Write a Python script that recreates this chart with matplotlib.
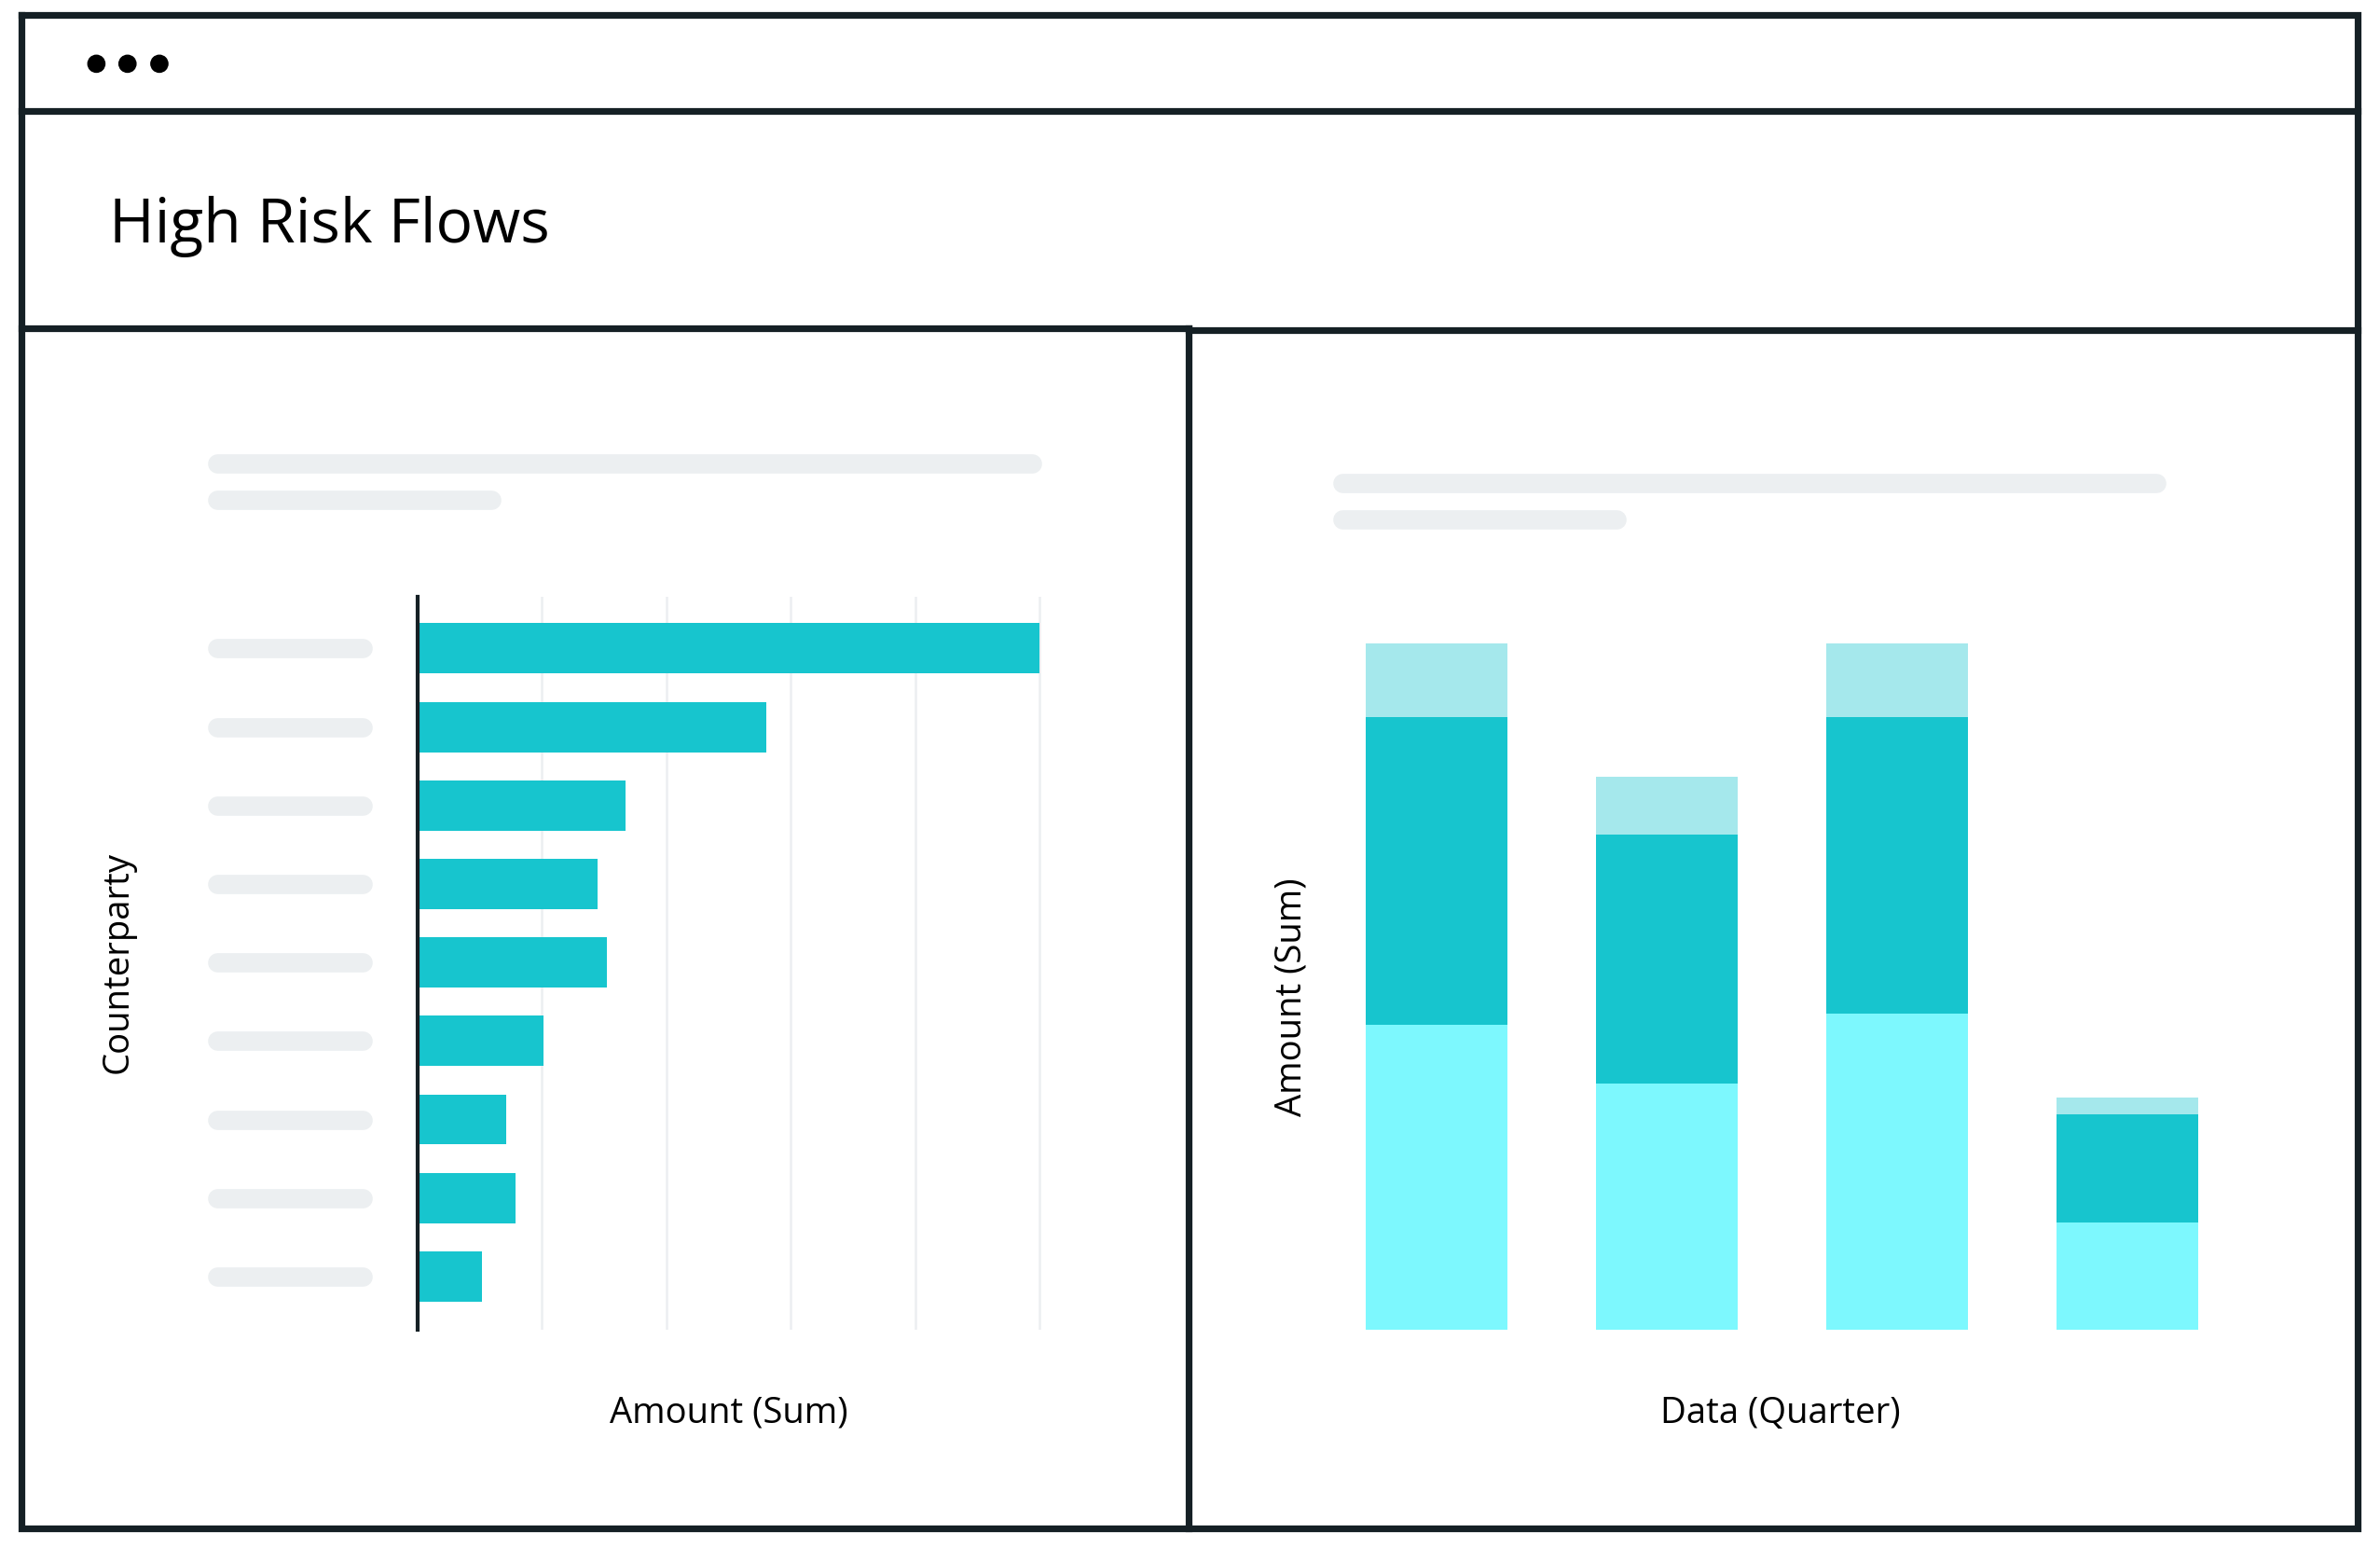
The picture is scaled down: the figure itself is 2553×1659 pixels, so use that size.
import matplotlib
matplotlib.use("Agg")
import matplotlib.pyplot as plt
from matplotlib.patches import Circle

plt.rcParams['font.family'] = ['Open Sans', 'DejaVu Sans']

# left chart: amount per counterparty, top to bottom
amounts = [500, 280, 167, 145, 152, 101, 71, 79, 52]
grid_ticks = [100, 200, 300, 400, 500]

# right chart: stacked amount per quarter
quarters = ["Q1", "Q2", "Q3", "Q4"]
part_low = [46.7, 37.8, 48.5, 16.4]
part_mid = [47.1, 38.1, 45.3, 16.6]
part_top = [11.3, 8.8, 11.3, 2.6]

FRAME = "#152025"
BAR = "#17C5CE"
LOW = "#7DF8FE"
TOP = "#A5E8EC"
GREY = "#ECEFF1"

# layout is worked out on a 1568 x 1019 grid
W, H = 1568.0, 1019.0


def box(x0, y0, x1, y1):
    return [x0 / W, 1 - y1 / H, (x1 - x0) / W, (y1 - y0) / H]


fig = plt.figure(figsize=(25.53, 16.59), dpi=100)

bg = fig.add_axes([0, 0, 1, 1])
bg.set_xlim(0, W)
bg.set_ylim(H, 0)
bg.axis("off")

lw = 5.2
# window frame
bg.plot([14, 1553, 1553, 14, 14], [10, 10, 1007, 1007, 10], color=FRAME, lw=lw,
        solid_joinstyle="miter", solid_capstyle="projecting")
bg.plot([14, 1553], [73, 73], color=FRAME, lw=lw)
bg.plot([14, 783], [216, 216], color=FRAME, lw=lw)
bg.plot([783, 1553], [217.5, 217.5], color=FRAME, lw=lw)
bg.plot([783, 783], [216, 1007], color=FRAME, lw=lw)

for cx in [63.5, 84, 105]:
    bg.add_patch(Circle((cx, 42), 5.6, color="black"))

bg.text(72, 149, "High Risk Flows", fontsize=47.5, va="center", ha="left", color="black")


def pill(ax, x0, x1, y, **kw):
    r = 6.3
    ax.plot([x0 + r, x1 - r], [y, y], color=GREY, lw=14.9, solid_capstyle="round", **kw)


# placeholder text lines
pill(bg, 137, 686, 305)
pill(bg, 137, 330, 329)
pill(bg, 878, 1427, 318)
pill(bg, 878, 1071, 342)

lab = 27.5
bg.text(78, 634, "Counterparty", fontsize=lab, rotation=90, ha="center", va="center")
bg.text(480, 931, "Amount (Sum)", fontsize=lab, ha="center", va="center")
bg.text(851, 657, "Amount (Sum)", fontsize=lab, rotation=90, ha="center", va="center")
bg.text(1173, 931, "Data (Quarter)", fontsize=lab, ha="center", va="center")

# left: horizontal bars
ax1 = fig.add_axes(box(275, 393, 689, 876))
ax1.patch.set_alpha(0)
ypos = list(range(len(amounts)))
ax1.barh(ypos, amounts, height=0.64, color=BAR, zorder=2)
ax1.set_xlim(0, 504.9)
ax1.set_ylim(len(amounts) - 1 + 0.68, -0.66)
ax1.set_xticks(grid_ticks)
ax1.set_yticks([])
ax1.tick_params(length=0, labelbottom=False)
ax1.grid(axis="x", color="#ECEEF1", lw=1.8, zorder=0)
ax1.set_axisbelow(True)
for s in ["top", "right", "bottom"]:
    ax1.spines[s].set_visible(False)
ax1.spines["left"].set_color(FRAME)
ax1.spines["left"].set_linewidth(3)
ax1.spines["left"].set_zorder(3)

# grey category label placeholders
tr = ax1.get_yaxis_transform()
for y in ypos:
    x0 = (137 - 275) / 414 + 6.3 / 414
    x1 = (245 - 275) / 414 - 6.3 / 414
    ax1.plot([x0, x1], [y, y], color=GREY, lw=14.9, solid_capstyle="round",
             transform=tr, clip_on=False)

# right: stacked columns
ax2 = fig.add_axes(box(870, 393, 1470, 876))
ax2.patch.set_alpha(0)
xs = list(range(len(quarters)))
base2 = [a + b for a, b in zip(part_low, part_mid)]
ax2.bar(xs, part_low, width=0.615, color=LOW)
ax2.bar(xs, part_mid, width=0.615, bottom=part_low, color=BAR)
ax2.bar(xs, part_top, width=0.615, bottom=base2, color=TOP)
ax2.set_xlim(-0.503, 3.45)
ax2.set_ylim(0, 112.3)
ax2.axis("off")

fig.savefig("out.png", dpi=100)
